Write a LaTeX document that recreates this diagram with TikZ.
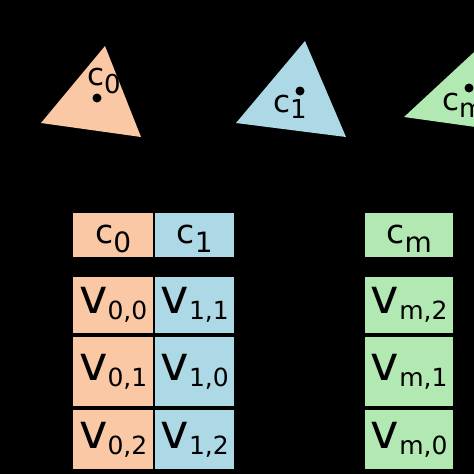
\documentclass[tikz,border=0pt]{standalone}
\usepackage{fontspec}
\setmainfont{DejaVu Sans}

\definecolor{peach}{RGB}{251,200,166}
\definecolor{skyb}{RGB}{173,216,230}
\definecolor{mint}{RGB}{178,232,178}

% main letter, subscript, main size, subscript size, drop
\newcommand{\sublbl}[5]{{\fontsize{#3}{#3}\selectfont #1}%
  \raisebox{-#5pt}{\fontsize{#4}{#4}\selectfont #2}}

\begin{document}
\begin{tikzpicture}[x=1pt,y=-1pt]

  \tikzset{
    box/.style  = {anchor=north west, inner sep=0pt, text=black},
    head/.style = {box, minimum height=44pt, text height=26pt},
    tri/.style  = {anchor=base west, inner sep=0pt, text=black},
    ctr/.style  = {black},
  }

  % ---- background -------------------------------------------------------
  \fill[black] (0,0) rectangle (474,474);
  \useasboundingbox (0,0) rectangle (474,474);
  \clip (0,0) rectangle (474,474);

  % ---- triangles with their centroids ------------------------------------
  \fill[peach] (41,123) -- (105,46) -- (141,137) -- cycle;
  \fill[skyb]  (236,123) -- (305,41) -- (346,137) -- cycle;
  \fill[mint]  (404,117) -- (500,28) -- (540,136) -- cycle;

  \fill[ctr] (97,98) circle (4.5pt);
  \fill[ctr] (300,91) circle (4.5pt);
  \fill[ctr] (469,88) circle (4.5pt);

  \node[tri] (t0) at (87,85)   {\sublbl{c}{0}{31}{26}{8}};
  \node[tri] (t1) at (273,112) {\sublbl{c}{1}{31}{26}{6}};
  \node[tri] (tm) at (442,110) {\sublbl{c}{m}{31}{26}{7}};

  % ---- tables -------------------------------------------------------------
  \foreach \n/\x/\w/\clr/\sa/\sb/\sc in {%
    0/73/80/peach/{0,0}/{0,1}/{0,2},
    1/155/79/skyb/{1,1}/{1,0}/{1,2},
    m/365/88/mint/{m,2}/{m,1}/{m,0}%
  }{
    \node[head, fill=\clr, minimum width=\w pt] (h\n) at (\x,213)
      {\sublbl{c}{\n}{33}{28}{9}};
    \node[box, fill=\clr, minimum width=\w pt, minimum height=56pt] (v\n-a) at (\x,277)
      {\sublbl{v}{\sa}{48}{25}{6}};
    \node[box, fill=\clr, minimum width=\w pt, minimum height=69pt] (v\n-b) at (\x,337)
      {\sublbl{v}{\sb}{48}{25}{6}};
    \node[box, fill=\clr, minimum width=\w pt, minimum height=59pt] (v\n-c) at (\x,410)
      {\sublbl{v}{\sc}{48}{25}{6}};
  }

\end{tikzpicture}
\end{document}
